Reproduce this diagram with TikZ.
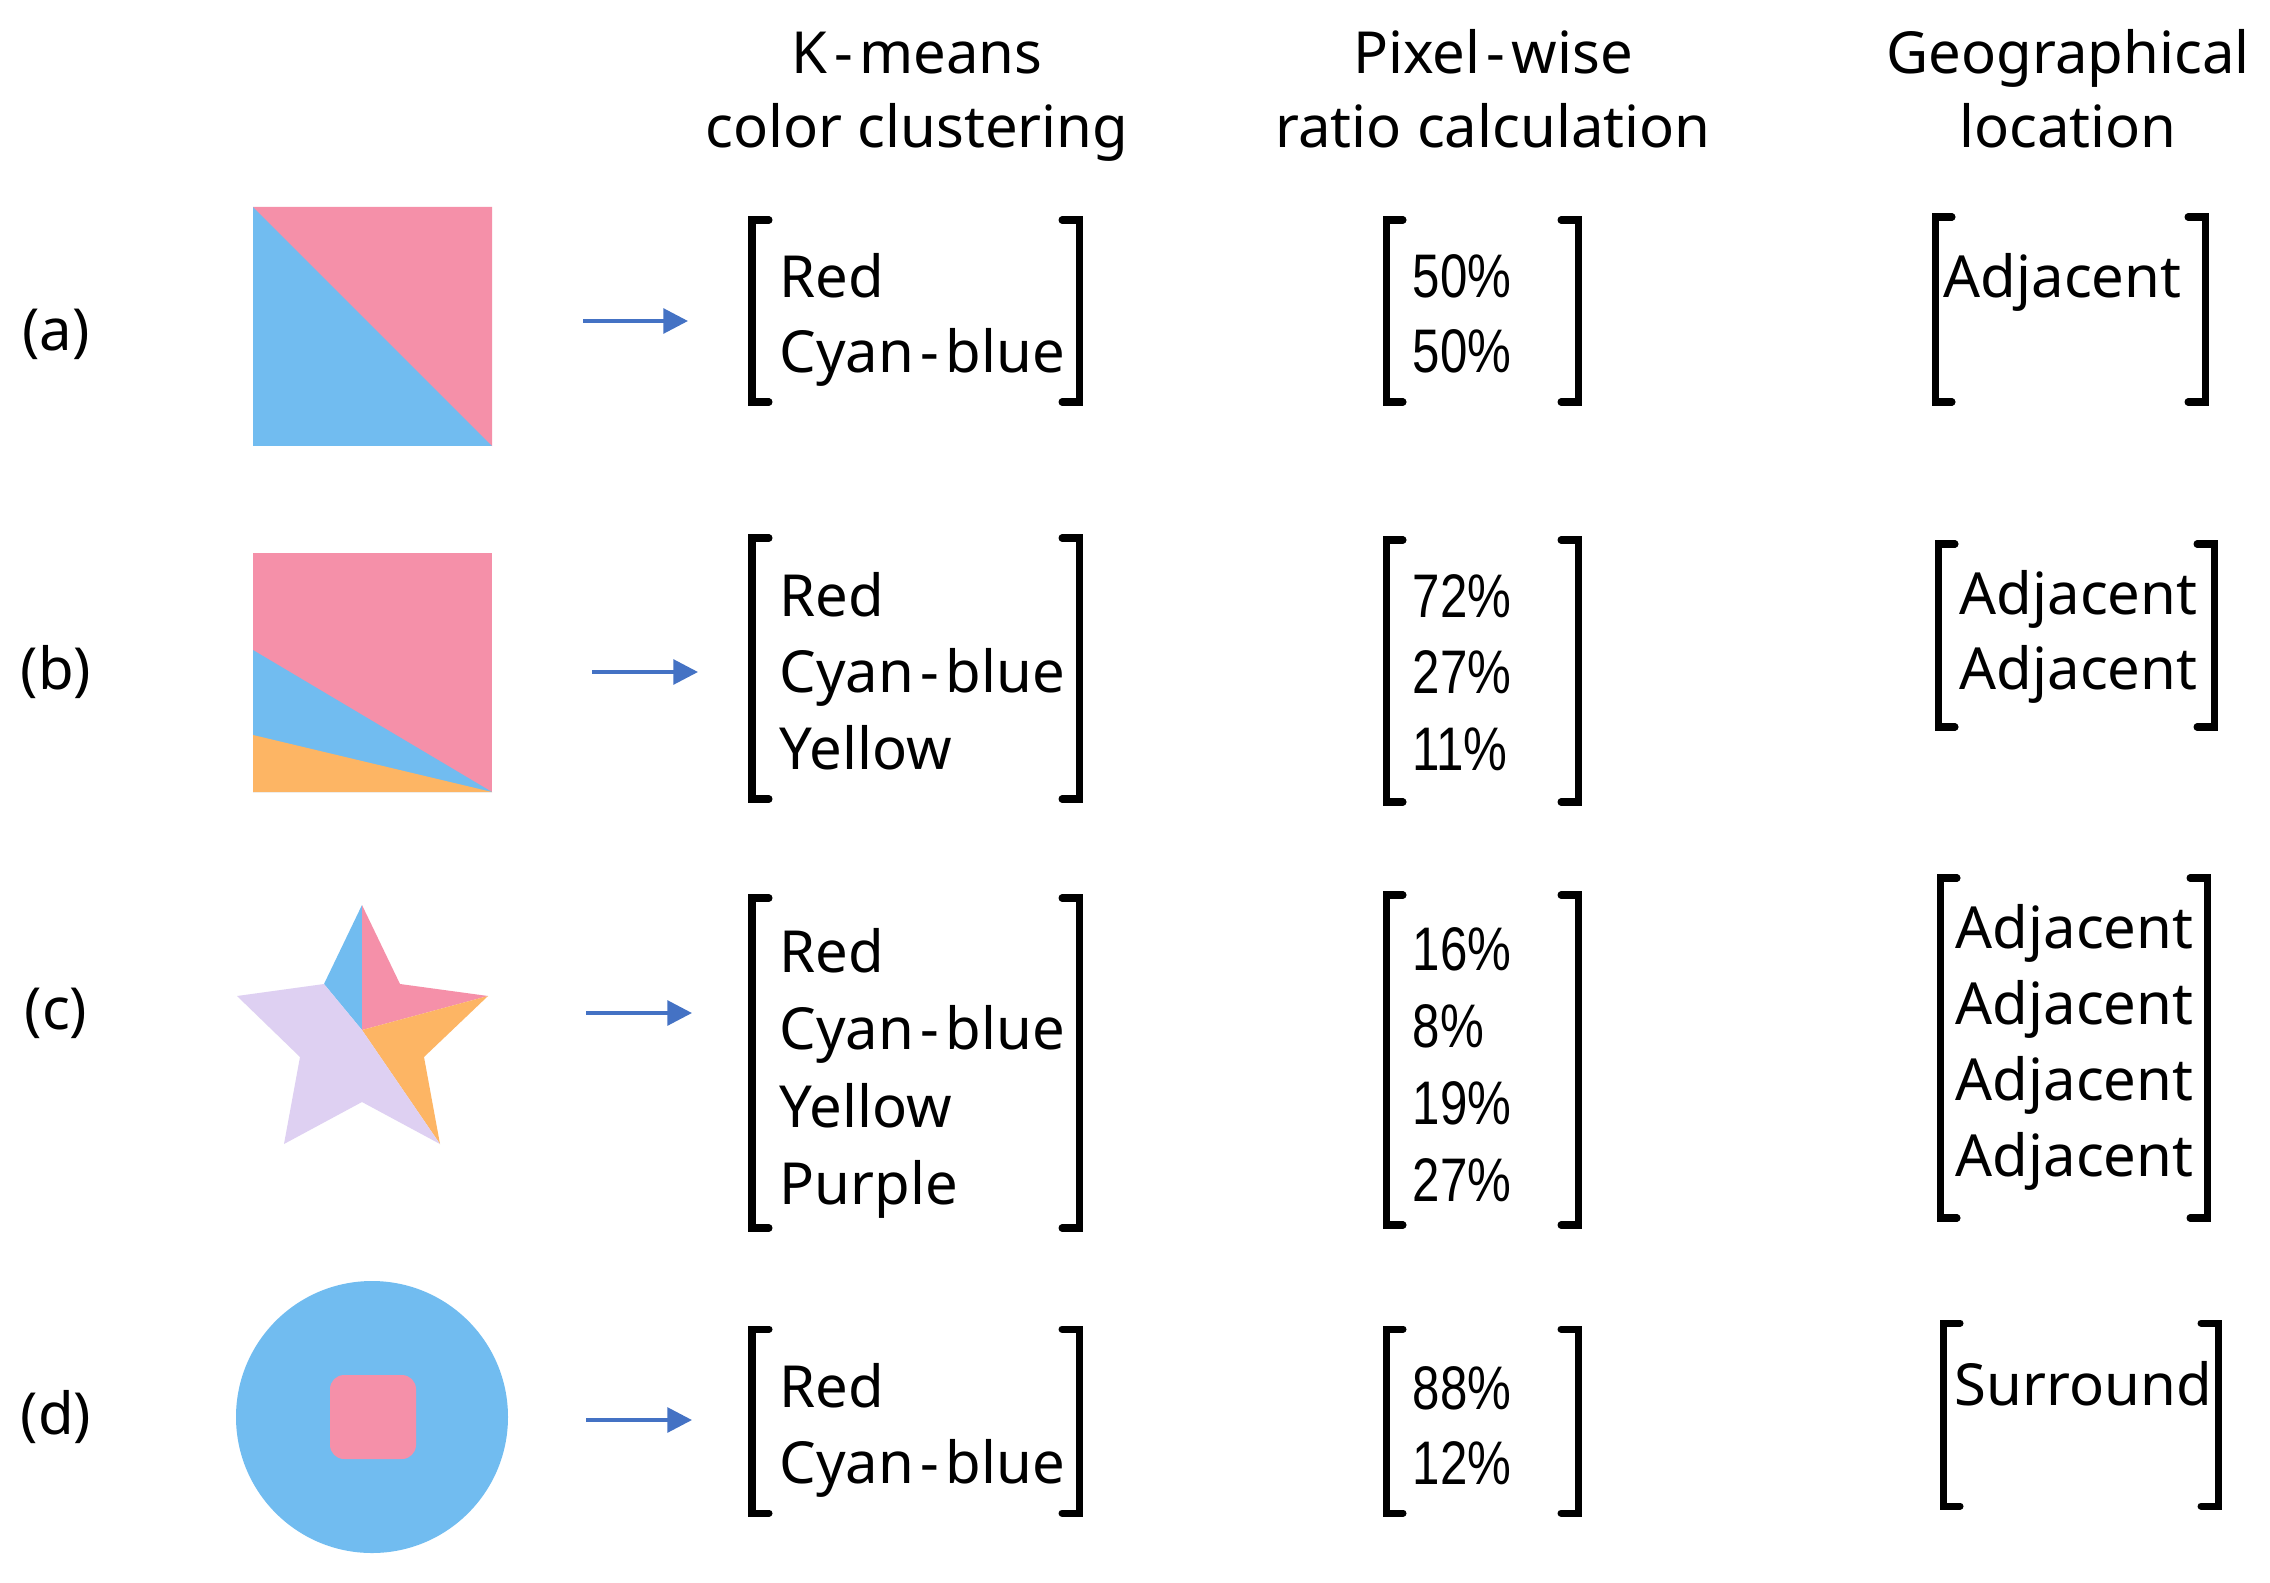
\documentclass[tikz,border=0pt]{standalone}
\usepackage{fontspec}
\setmainfont{Noto Sans}
\newfontfamily\pctfont[FakeStretch=0.8]{Liberation Sans}
\usetikzlibrary{arrows.meta}

\definecolor{shpink}{HTML}{F590A9}
\definecolor{shblue}{HTML}{71BCF0}
\definecolor{shorange}{HTML}{FDB564}
\definecolor{shpurple}{HTML}{DED0F2}
\definecolor{arrblue}{HTML}{4472C4}

\newcommand{\hy}{\kern1.8pt-\kern1.8pt}

\begin{document}
\begin{tikzpicture}[x=0.01cm,y=-0.01cm,
  lbl/.style={font=\fontsize{16.5}{20}\selectfont, inner sep=0pt},
  item/.style={lbl, anchor=base west},
  hdr/.style={lbl, anchor=base},
  pct/.style={item, font=\fontsize{17.5}{20}\selectfont\pctfont},
  brk/.style={line width=2pt, line cap=round},
  arr/.style={-{Triangle[length=7pt,width=7pt]}, line width=1.1pt, color=arrblue}]

\fill[white] (0,0) rectangle (2270,1582);

% column headers
\node[hdr] (h-km1) at (917,74) {K\hy means};
\node[hdr] (h-km2) at (917,148) {color clustering};
\node[hdr] (h-px1) at (1493,74) {Pixel\hy wise};
\node[hdr] (h-px2) at (1493,148) {ratio calculation};
\node[hdr] (h-geo1) at (2068,74) {Geographical};
\node[hdr] (h-geo2) at (2068,148) {location};

% row labels
\foreach \r/\y in {a/350,b/689,c/1029,d/1434}
  \node[hdr] (lab-\r) at (56,\y) {(\r)};

% (a) square cut on the diagonal
\fill[shblue] (253,207) rectangle (492,446);
\fill[shpink] (253,207) -- (492,207) -- (492,446) -- cycle;

% (b) square with three wedges
\fill[shpink] (253,553) rectangle (492,792);
\fill[shblue] (253,650) -- (492,792) -- (253,792) -- cycle;
\fill[shorange] (253,735) -- (492,792) -- (253,792) -- cycle;

% (c) star
\coordinate (st-j) at (362,1030);
\fill[shblue] (362,905) -- (324,984) -- (st-j) -- cycle;
\fill[shpink] (362,905) -- (400,984) -- (488,996) -- (st-j) -- cycle;
\fill[shorange] (st-j) -- (488,996) -- (424,1057) -- (440,1144) -- cycle;
\fill[shpurple] (st-j) -- (440,1144) -- (362,1102) -- (284,1144)
  -- (300,1057) -- (237,996) -- (324,984) -- cycle;

% (d) disc with a rounded square
\fill[shblue] (372,1417) circle (136);
\fill[shpink, rounded corners=4pt] (330,1375) rectangle (416,1459);

% arrows
\foreach \r/\xa/\xb/\y in {a/583/688/321,b/592/698/672,c/586/692/1013,d/586/692/1420}{
  \coordinate (\r-from) at (\xa,\y);
  \coordinate (\r-to) at (\xb,\y);
  \draw[arr] (\r-from) -- (\r-to);
}

% brackets
\foreach \xl/\xr/\yt/\yb in {752/1079/220/402, 752/1079/538/799,
    752/1079/898/1228, 752/1079/1329/1513,
    1386/1578/220/402, 1386/1578/540/802,
    1386/1578/895/1225, 1386/1578/1329/1513,
    1935/2205/217/402, 1938/2214/544/727,
    1940/2207/878/1218, 1943/2218/1323/1506}{
  \draw[brk] (\xl+17,\yt) -- (\xl,\yt) -- (\xl,\yb) -- (\xl+17,\yb);
  \draw[brk] (\xr-17,\yt) -- (\xr,\yt) -- (\xr,\yb) -- (\xr-17,\yb);
}

% colour lists
\foreach \t [count=\i] in {Red,Cyan\hy blue}
  \node[item] (km-a-\i) at (779,{297+75*(\i-1)}) {\t};
\foreach \t [count=\i] in {Red,Cyan\hy blue,Yellow}
  \node[item] (km-b-\i) at (779,{616+76.5*(\i-1)}) {\t};
\foreach \t [count=\i] in {Red,Cyan\hy blue,Yellow,Purple}
  \node[item] (km-c-\i) at (779,{972+77.5*(\i-1)}) {\t};
\foreach \t [count=\i] in {Red,Cyan\hy blue}
  \node[item] (km-d-\i) at (779,{1407+76*(\i-1)}) {\t};

% ratios
\foreach \t [count=\i] in {50\%,50\%}
  \node[pct] (px-a-\i) at (1412,{297+75*(\i-1)}) {\t};
\foreach \t [count=\i] in {72\%,27\%,11\%}
  \node[pct] (px-b-\i) at (1412,{617+76.5*(\i-1)}) {\t};
\foreach \t [count=\i] in {16\%,8\%,19\%,27\%}
  \node[pct] (px-c-\i) at (1412,{970+77.3*(\i-1)}) {\t};
\foreach \t [count=\i] in {88\%,12\%}
  \node[pct] (px-d-\i) at (1412,{1409+75*(\i-1)}) {\t};

% locations
\node[item] (geo-a-1) at (1943,297) {Adjacent};
\foreach \i in {1,2}
  \node[item] (geo-b-\i) at (1959,{614+75*(\i-1)}) {Adjacent};
\foreach \i in {1,...,4}
  \node[item] (geo-c-\i) at (1955,{948+76*(\i-1)}) {Adjacent};
\node[item] (geo-d-1) at (1954,1405) {Surround};

\end{tikzpicture}
\end{document}
